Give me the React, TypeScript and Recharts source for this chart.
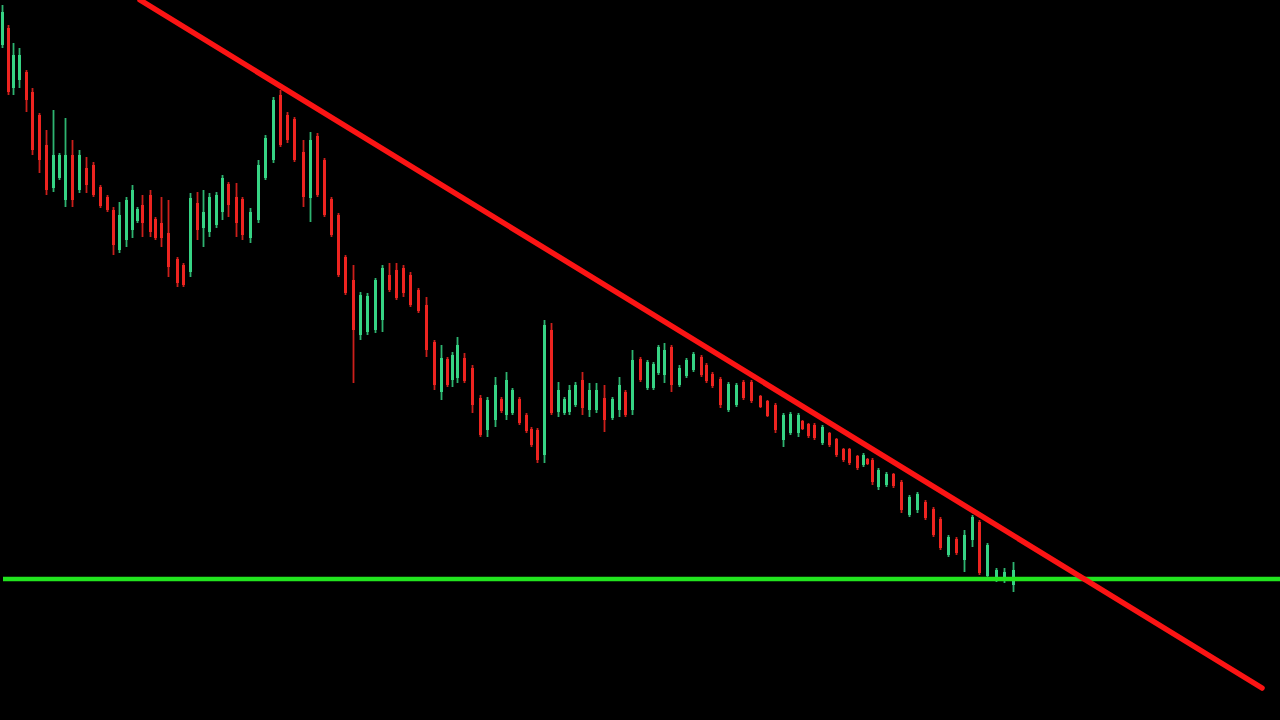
import { ComposedChart, Bar, XAxis, YAxis, ReferenceLine } from 'recharts';

// candle time positions along the session axis
const times = [
  2, 8, 13, 19, 26, 32, 39, 46, 53, 59, 65, 72, 79, 86, 93, 100, 107, 113, 119, 126,
  132, 137, 142, 150, 155, 161, 168, 177, 183, 190, 197, 203, 209, 216, 222, 228, 236, 242, 250, 258,
  265, 273, 280, 287, 294, 303, 310, 317, 324, 331, 338, 345, 353, 360, 367, 375, 382, 389, 396, 403,
  410, 418, 426, 434, 441, 447, 452, 457, 464, 472, 480, 487, 495, 501, 506, 512, 519, 526, 531, 537,
  544, 551, 558, 564, 569, 575, 582, 589, 596, 604, 612, 619, 625, 632, 640, 647, 653, 658, 664, 671,
  679, 686, 693, 701, 706, 712, 720, 728, 736, 743, 751, 760, 767, 775, 783, 790, 798, 802, 808, 814,
  822, 829, 836, 843, 849, 857, 863, 867, 872, 878, 886, 893, 901, 909, 917, 925, 933, 940, 948, 956,
  964, 972, 979, 987, 996, 1004, 1013,
];

const highs = [
  715, 695, 677, 672, 650, 632, 607, 590, 610, 567, 602, 580, 570, 563, 558, 535, 525, 513, 518, 523,
  535, 513, 525, 530, 503, 523, 520, 463, 457, 527, 528, 530, 527, 528, 545, 538, 537, 523, 512, 560,
  585, 623, 630, 608, 603, 580, 588, 587, 562, 523, 507, 465, 455, 428, 427, 442, 455, 457, 457, 455,
  448, 432, 423, 380, 375, 363, 368, 383, 367, 355, 325, 323, 343, 323, 348, 332, 323, 307, 293, 292,
  400, 397, 338, 323, 335, 338, 348, 337, 337, 335, 323, 343, 330, 370, 363, 360, 358, 375, 377, 375,
  355, 362, 368, 365, 357, 348, 343, 338, 337, 340, 340, 325, 320, 317, 307, 308, 307, 300, 297, 297,
  295, 288, 282, 272, 272, 265, 267, 262, 262, 252, 248, 247, 240, 225, 228, 220, 213, 203, 185, 183,
  190, 205, 200, 177, 152, 152, 158,
];

const lows = [
  672, 625, 625, 632, 608, 565, 547, 525, 528, 540, 513, 513, 527, 527, 523, 512, 508, 465, 467, 473,
  482, 497, 483, 483, 480, 473, 443, 433, 433, 443, 480, 473, 483, 492, 500, 503, 483, 480, 477, 497,
  540, 557, 573, 577, 558, 513, 498, 523, 503, 483, 443, 425, 337, 380, 385, 387, 388, 428, 420, 423,
  413, 407, 363, 330, 320, 333, 333, 337, 337, 307, 283, 283, 293, 307, 300, 305, 295, 287, 273, 257,
  257, 305, 303, 305, 305, 313, 305, 303, 307, 288, 300, 303, 303, 305, 338, 330, 330, 345, 337, 328,
  333, 342, 348, 343, 337, 332, 312, 308, 313, 320, 317, 312, 303, 287, 273, 285, 283, 290, 282, 280,
  275, 273, 263, 258, 255, 250, 253, 255, 235, 230, 233, 232, 207, 203, 207, 200, 183, 170, 163, 165,
  148, 173, 145, 142, 138, 137, 128,
];

const opens = [
  675, 692, 632, 640, 648, 628, 605, 575, 532, 542, 520, 565, 530, 552, 555, 533, 523, 510, 470, 480,
  490, 499, 515, 525, 501, 497, 487, 461, 455, 448, 517, 492, 488, 495, 508, 536, 523, 521, 482, 500,
  542, 560, 625, 605, 601, 568, 522, 584, 560, 521, 505, 463, 440, 385, 388, 390, 400, 445, 450, 452,
  445, 430, 415, 378, 328, 361, 340, 342, 362, 352, 322, 290, 300, 321, 305, 307, 321, 305, 291, 290,
  265, 390, 308, 307, 308, 315, 340, 310, 310, 322, 302, 310, 328, 310, 361, 332, 332, 347, 345, 373,
  335, 344, 350, 363, 355, 346, 341, 310, 315, 338, 338, 324, 319, 315, 280, 287, 287, 299, 296, 295,
  277, 287, 281, 271, 271, 264, 255, 261, 260, 233, 235, 246, 238, 205, 210, 218, 211, 201, 165, 181,
  160, 180, 198, 144, 142, 141, 135,
];

const closes = [
  708, 628, 665, 665, 620, 570, 560, 530, 565, 565, 565, 520, 565, 535, 525, 514, 510, 475, 505, 520,
  530, 511, 497, 488, 482, 482, 453, 437, 435, 522, 490, 508, 523, 525, 542, 515, 497, 485, 508, 555,
  582, 620, 575, 580, 560, 523, 580, 525, 505, 485, 445, 427, 390, 425, 424, 440, 452, 430, 422, 427,
  415, 409, 370, 335, 362, 335, 365, 375, 339, 315, 285, 320, 335, 309, 340, 330, 297, 289, 275, 260,
  395, 307, 330, 321, 330, 335, 312, 330, 330, 300, 321, 335, 305, 360, 340, 358, 356, 373, 370, 335,
  352, 360, 366, 345, 339, 334, 315, 336, 335, 322, 319, 313, 304, 290, 305, 306, 305, 291, 284, 282,
  293, 275, 265, 260, 257, 252, 265, 256, 238, 250, 246, 234, 210, 223, 226, 202, 185, 172, 183, 167,
  185, 203, 147, 175, 150, 148, 150,
];

// trend lines (time, price)
const resistanceLine = [
  { x: 140, y: 720 },
  { x: 1262, y: 32 },
];
const supportLevel = 141;
const supportStart = 3;
const supportEnd = 1280;

const candles = times.map((t, i) => ({
  t,
  open: opens[i],
  high: highs[i],
  low: lows[i],
  close: closes[i],
}));

const UP = '#36d484';
const DOWN = '#ee2420';

const Candle = (props: any) => {
  const { x, y, width, height, payload } = props;
  if (!payload || height == null) return null;
  const { open, close, high, low } = payload;
  const range = high - low || 1;
  const px = height / range;
  const cx = x + width / 2;
  const bodyTop = y + (high - Math.max(open, close)) * px;
  const bodyH = Math.max(1, Math.abs(close - open) * px);
  const color = close >= open ? UP : DOWN;
  return (
    <g>
      <rect x={cx - 0.9} y={y} width={1.8} height={height} fill={color} opacity={0.85} />
      <rect x={cx - 1.5} y={bodyTop} width={3} height={bodyH} fill={color} />
    </g>
  );
};

export default function App() {
  return (
    <div style={{ width: 1280, height: 720, background: '#000' }}>
      <style>{'body{margin:0;background:#000;}'}</style>
      <ComposedChart
        width={1280}
        height={720}
        data={candles}
        margin={{ top: 0, right: 0, left: 0, bottom: 0 }}
      >
        <XAxis type="number" dataKey="t" domain={[0, 1280]} hide />
        <YAxis type="number" domain={[0, 720]} hide />
        <Bar
          dataKey={(d: any) => [d.low, d.high]}
          barSize={3}
          shape={Candle}
          isAnimationActive={false}
        />
        <ReferenceLine
          segment={[
            { x: supportStart, y: supportLevel },
            { x: supportEnd, y: supportLevel },
          ]}
          stroke="#22e41f"
          strokeWidth={4.5}
          ifOverflow="visible"
        />
        <ReferenceLine
          segment={resistanceLine}
          stroke="#fb1414"
          strokeWidth={5.5}
          strokeLinecap="round"
          ifOverflow="visible"
        />
      </ComposedChart>
    </div>
  );
}
